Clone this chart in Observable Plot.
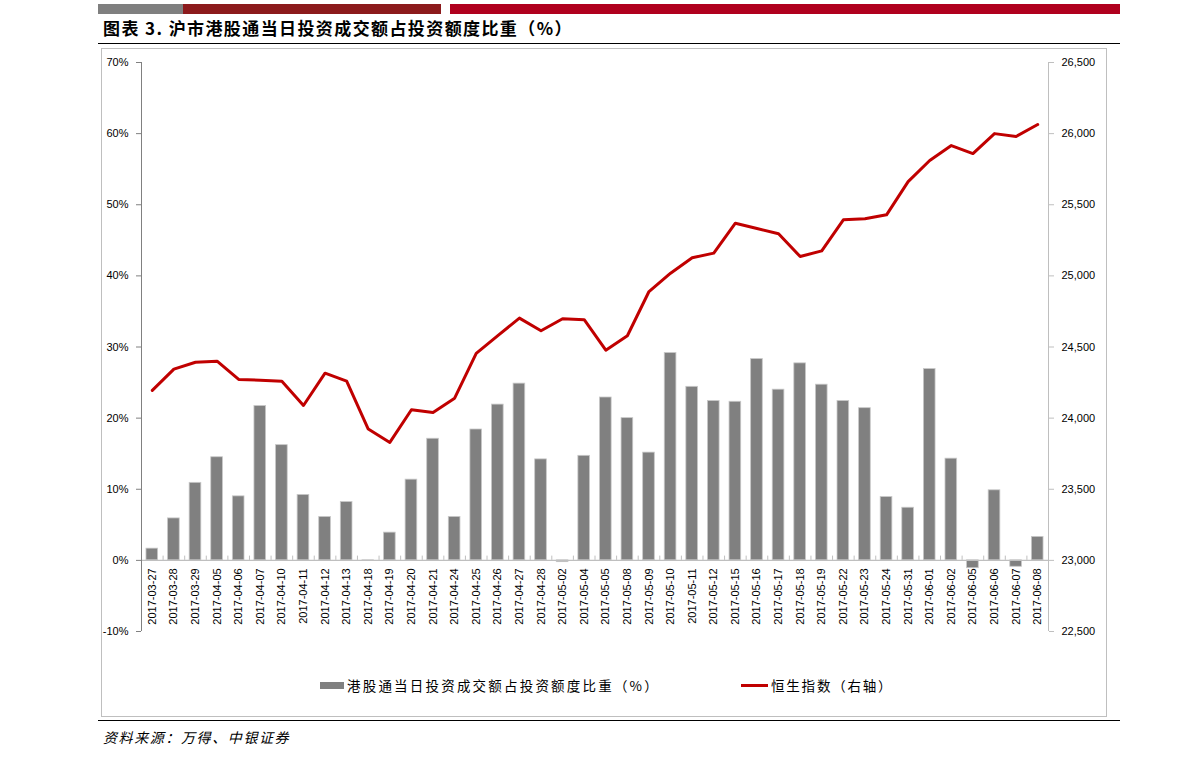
<!DOCTYPE html>
<html><head><meta charset="utf-8">
<script src="https://cdn.jsdelivr.net/npm/d3@7"></script>
<script src="https://cdn.jsdelivr.net/npm/@observablehq/plot@0.6"></script>
<style>
body{margin:0;background:#fff;}
#wrap{position:relative;width:1191px;height:764px;overflow:hidden;font-family:"Liberation Sans",Arial,sans-serif;}
.abs{position:absolute;}
#chart{position:absolute;left:0;top:0;}
.cjk{font-family:"Noto Sans CJK SC","Noto Sans",sans-serif;}
</style></head><body><div id="wrap">
<div id="chart"></div>
<div class="abs" style="left:98px;top:4px;width:85px;height:10px;background:#7f7f7f"></div>
<div class="abs" style="left:183px;top:4px;width:258px;height:10px;background:#8c1a1c"></div>
<div class="abs" style="left:450px;top:4px;width:670px;height:10px;background:#b0001e"></div>
<div class="abs cjk" style="left:103px;top:17px;font-size:17px;font-weight:700;line-height:22px;letter-spacing:1.4px;color:#000">图表 3. 沪市港股通当日投资成交额占投资额度比重（%）</div>
<div class="abs" style="left:98px;top:43px;width:1022px;height:0;border-top:1.5px solid #000"></div>
<div class="abs" style="left:101px;top:48px;width:1004px;height:667px;border:1px solid #bfbfbf"></div>
<div class="abs" style="left:98px;top:720px;width:1022px;height:0;border-top:1.5px solid #000"></div>
<div class="abs cjk" style="left:103px;top:727px;font-size:14px;line-height:20px;font-style:italic;letter-spacing:1.6px;color:#000">资料来源：万得、中银证券</div>
<div class="abs" style="left:320px;top:682px;width:24px;height:7px;background:#808080"></div>
<div class="abs cjk" style="left:347px;top:676px;font-size:13.5px;line-height:18px;letter-spacing:2.2px;color:#000">港股通当日投资成交额占投资额度比重（%）</div>
<div class="abs" style="left:741px;top:684px;width:27px;height:3px;background:#c00000"></div>
<div class="abs cjk" style="left:771px;top:676px;font-size:13.5px;line-height:18px;letter-spacing:1.8px;color:#000">恒生指数（右轴）</div>
</div>
<script>
const dates = ["2017-03-27","2017-03-28","2017-03-29","2017-04-05","2017-04-06","2017-04-07","2017-04-10","2017-04-11","2017-04-12","2017-04-13","2017-04-18","2017-04-19","2017-04-20","2017-04-21","2017-04-24","2017-04-25","2017-04-26","2017-04-27","2017-04-28","2017-05-02","2017-05-04","2017-05-05","2017-05-08","2017-05-09","2017-05-10","2017-05-11","2017-05-12","2017-05-15","2017-05-16","2017-05-17","2017-05-18","2017-05-19","2017-05-22","2017-05-23","2017-05-24","2017-05-31","2017-06-01","2017-06-02","2017-06-05","2017-06-06","2017-06-07","2017-06-08"];
const shareValues = [1.65,5.9,10.9,14.5,9.0,21.7,16.2,9.2,6.1,8.2,-0.1,3.9,11.35,17.1,6.1,18.4,21.9,24.85,14.2,-0.25,14.7,22.9,20.0,15.15,29.15,24.4,22.4,22.3,28.3,24.0,27.7,24.7,22.4,21.4,8.9,7.4,26.9,14.3,-1.1,9.85,-0.9,3.3];
const hsiValues = [24195,24344,24393,24400,24272,24267,24260,24089,24316,24260,23923,23829,24059,24040,24140,24455,24580,24703,24614,24699,24692,24478,24579,24890,25019,25127,25160,25370,25333,25296,25136,25176,25394,25401,25429,25663,25811,25916,25860,26000,25980,26064];
const leftTicks = [-10,0,10,20,30,40,50,60,70];
const rightTicks = [22500,23000,23500,24000,24500,25000,25500,26000,26500];

// right axis (22,500–26,500) mapped onto the left axis (-10%–70%)
const toLeft = v => (v - 23000) / 50;
const fromLeft = p => p * 50 + 23000;

const rows = dates.map((d, i) => ({i, date: d, share: shareValues[i], hsi: hsiValues[i]}));
const bounds = d3.range(dates.length + 1).map(k => k - 0.5);

const chart = Plot.plot({
  width: 1191, height: 764,
  marginLeft: 141, marginRight: 143, marginTop: 62, marginBottom: 133,
  x: {domain: [-0.5, dates.length - 0.5], axis: null},
  y: {domain: [-10, 70], axis: null},
  style: {background: "transparent", fontFamily: "'Liberation Sans', Arial, sans-serif", fontSize: "11px", color: "#000", overflow: "visible"},
  marks: [
    Plot.rectY(rows, {x1: d => d.i - 0.27, x2: d => d.i + 0.27, y1: 0, y2: "share", fill: "#808080", stroke: "#c8c8c8", strokeWidth: 0.8}),
    Plot.ruleY([0], {stroke: "#bfbfbf", strokeWidth: 1.2}),
    Plot.ruleX(bounds, {x: d => d, y1: 0, y2: 0.6, stroke: "#bfbfbf"}),
    Plot.ruleX([-0.5], {stroke: "#808080"}),
    Plot.ruleX([dates.length - 0.5], {stroke: "#bfbfbf"}),
    Plot.axisY(leftTicks, {anchor: "left", tickFormat: d => d + "%", tickSize: 5, tickPadding: 8, stroke: "#808080", fill: "#000", label: null}),
    Plot.axisY(rightTicks.map(toLeft), {anchor: "right", tickFormat: d => d3.format(",")(fromLeft(d)), tickSize: 5, tickPadding: 8, stroke: "#bfbfbf", fill: "#000", label: null}),
    Plot.text(rows, {x: "i", y: 0, text: "date", rotate: -90, textAnchor: "end", dy: 8, fill: "#000"}),
    Plot.line(rows, {x: "i", y: d => toLeft(d.hsi), stroke: "#c00000", strokeWidth: 3, strokeLinejoin: "round"})
  ]
});
document.getElementById("chart").appendChild(chart);
</script>
</body></html>
